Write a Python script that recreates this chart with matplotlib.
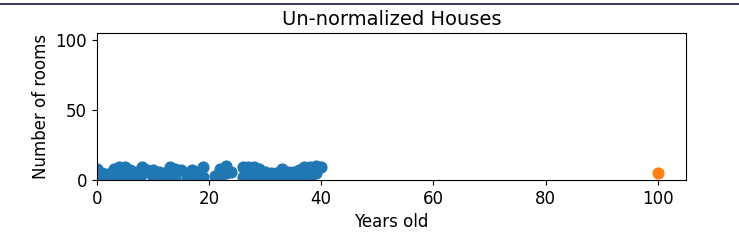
import matplotlib
matplotlib.use("Agg")
import matplotlib.pyplot as plt
from matplotlib.lines import Line2D

# houses: years old vs number of rooms
years = [0, 0, 0, 1, 1, 2, 2, 3, 3, 4, 4, 5, 5, 6, 6, 7, 7, 8, 8, 9,
         10, 10, 11, 12, 12, 13, 13, 14, 14, 15, 16, 16, 17, 17, 18, 19, 19,
         21, 22, 22, 23, 23, 24, 26, 26, 27, 27, 28, 28, 29, 29, 30, 30,
         31, 32, 32, 33, 33, 34, 35, 35, 36, 36, 37, 37, 38, 38, 39, 39, 40]
rooms = [8, 4, 1, 5, 2, 4, 1, 8, 3, 9, 5, 9, 2, 7, 3, 6, 1, 9, 4, 7,
         7, 2, 6, 5, 1, 9, 4, 8, 2, 7, 5, 1, 7, 3, 6, 9, 2,
         3, 8, 2, 10, 5, 6, 9, 2, 9, 4, 9, 1, 8, 3, 6, 2,
         5, 5, 1, 8, 3, 6, 6, 2, 7, 3, 9, 4, 9, 2, 10, 5, 9]

outlier_years = [100]
outlier_rooms = [5]

fig = plt.figure(figsize=(7.39, 2.5), dpi=100)
ax = fig.add_axes([0.131, 0.28, 0.797, 0.588])

ax.scatter(years, rooms, s=60, color="#1f77b4")
ax.scatter(outlier_years, outlier_rooms, s=60, color="#ff7f0e")

ax.set_xlim(0, 105)
ax.set_ylim(0, 105)
ax.set_xticks([0, 20, 40, 60, 80, 100])
ax.set_yticks([0, 50, 100])
ax.tick_params(labelsize=12)
ax.set_xlabel("Years old", fontsize=12)
ax.set_ylabel("Number of rooms", fontsize=12)
ax.set_title("Un-normalized Houses", fontsize=14)

# thin rule along the top of the image
fig.add_artist(Line2D([0, 1], [0.984, 0.984], color="#14143a", lw=1.2,
                      transform=fig.transFigure))

fig.savefig("out.png", dpi=100)
